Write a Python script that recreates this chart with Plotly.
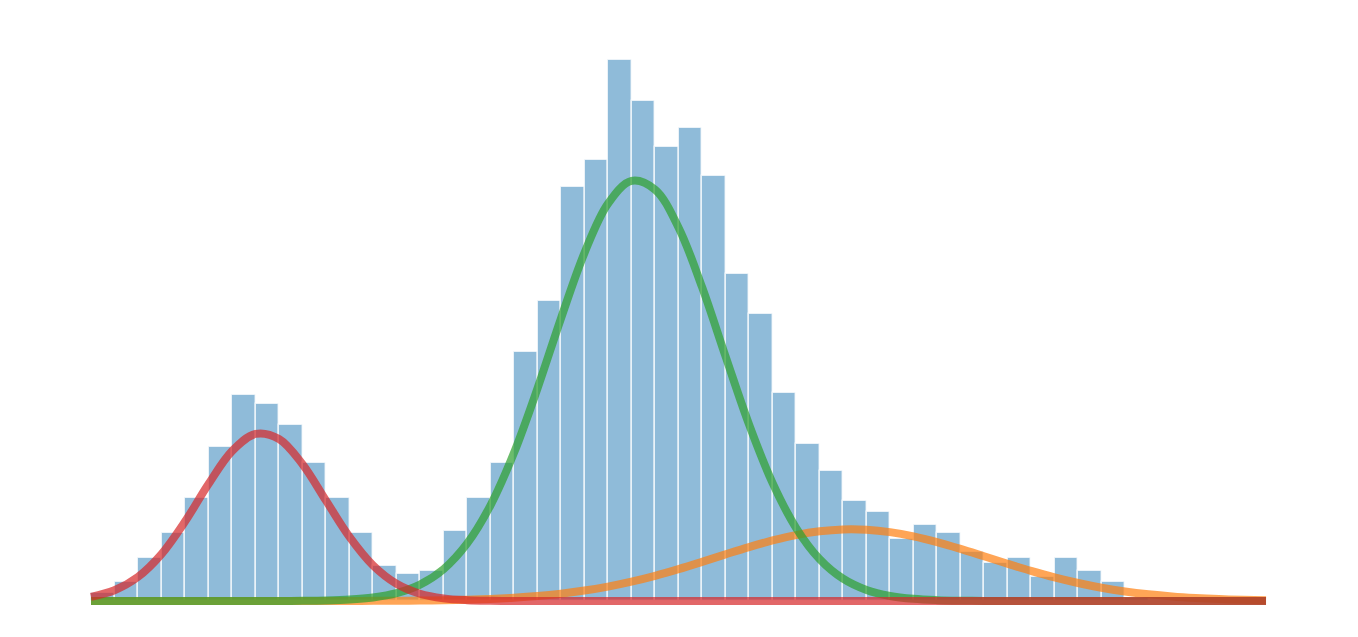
import plotly.graph_objects as go

# histogram counts, one per unit-wide bin starting at 0
bin_counts = [3, 7, 16, 25, 38, 57, 76, 73, 65, 51,
              38, 25, 13, 10, 11, 26, 38, 51, 92, 111,
              153, 163, 200, 185, 168, 175, 157, 121, 106, 77,
              58, 48, 37, 33, 23, 28, 25, 18, 14, 16,
              9, 16, 11, 7, 1, 0, 0, 0, 0, 0]
bin_left = list(range(len(bin_counts)))

# fitted component curves, sampled at each bin edge 0..50
curve_x = list(range(51))
red_y = [1.55, 3.99, 8.92, 17.35, 29.36, 43.24, 55.41, 61.76, 59.90, 50.54,
         37.10, 23.70, 13.17, 6.37, 2.68, 0.98, 0.31, 0.09, 0.02, 0,
         0, 0, 0, 0, 0, 0, 0, 0, 0, 0,
         0, 0, 0, 0, 0, 0, 0, 0, 0, 0,
         0, 0, 0, 0, 0, 0, 0, 0, 0, 0, 0]
green_y = [0, 0, 0, 0, 0, 0, 0, 0, 0.02, 0.07,
           0.20, 0.52, 1.27, 2.87, 6.03, 11.75, 21.18, 35.38, 54.79, 78.59,
           104.5, 128.7, 146.9, 155.3, 152.1, 138.1, 116.1, 90.48, 65.31, 43.69,
           27.07, 15.54, 8.26, 4.08, 1.86, 0.79, 0.31, 0.11, 0.04, 0,
           0, 0, 0, 0, 0, 0, 0, 0, 0, 0, 0]
orange_y = [0, 0, 0, 0, 0, 0, 0, 0, 0, 0,
            0.015, 0.03, 0.05, 0.09, 0.17, 0.29, 0.49, 0.78, 1.22, 1.84,
            2.71, 3.85, 5.33, 7.16, 9.32, 11.79, 14.47, 17.24, 19.93, 22.37,
            24.37, 25.77, 26.45, 26.34, 25.47, 23.90, 21.77, 19.25, 16.52, 13.76,
            11.12, 8.72, 6.65, 4.91, 3.52, 2.46, 1.66, 1.09, 0.69, 0.43, 0.26]

fig = go.Figure()
fig.add_trace(go.Bar(
    x=[b + 0.5 for b in bin_left], y=bin_counts, width=1,
    marker=dict(color='rgba(31,119,180,0.5)',
                line=dict(color='rgba(255,255,255,0.75)', width=1.5)),
    showlegend=False, hoverinfo='skip'))

for ys, col in [(orange_y, 'rgba(255,127,14,0.7)'),
                (green_y, 'rgba(44,160,44,0.7)'),
                (red_y, 'rgba(214,39,40,0.7)')]:
    fig.add_trace(go.Scatter(x=curve_x, y=ys, mode='lines', line_shape='spline',
                             line=dict(color=col, width=8), showlegend=False))

# page body adds ~8px offset, ranges account for it
fig.update_layout(
    width=1358, height=637,
    margin=dict(l=0, r=0, t=0, b=0),
    paper_bgcolor='white', plot_bgcolor='white',
    bargap=0,
    xaxis=dict(range=[-3.532, 54.255], visible=False),
    yaxis=dict(range=[-16.27, 219.22], visible=False),
)

fig.write_html("out.html")
